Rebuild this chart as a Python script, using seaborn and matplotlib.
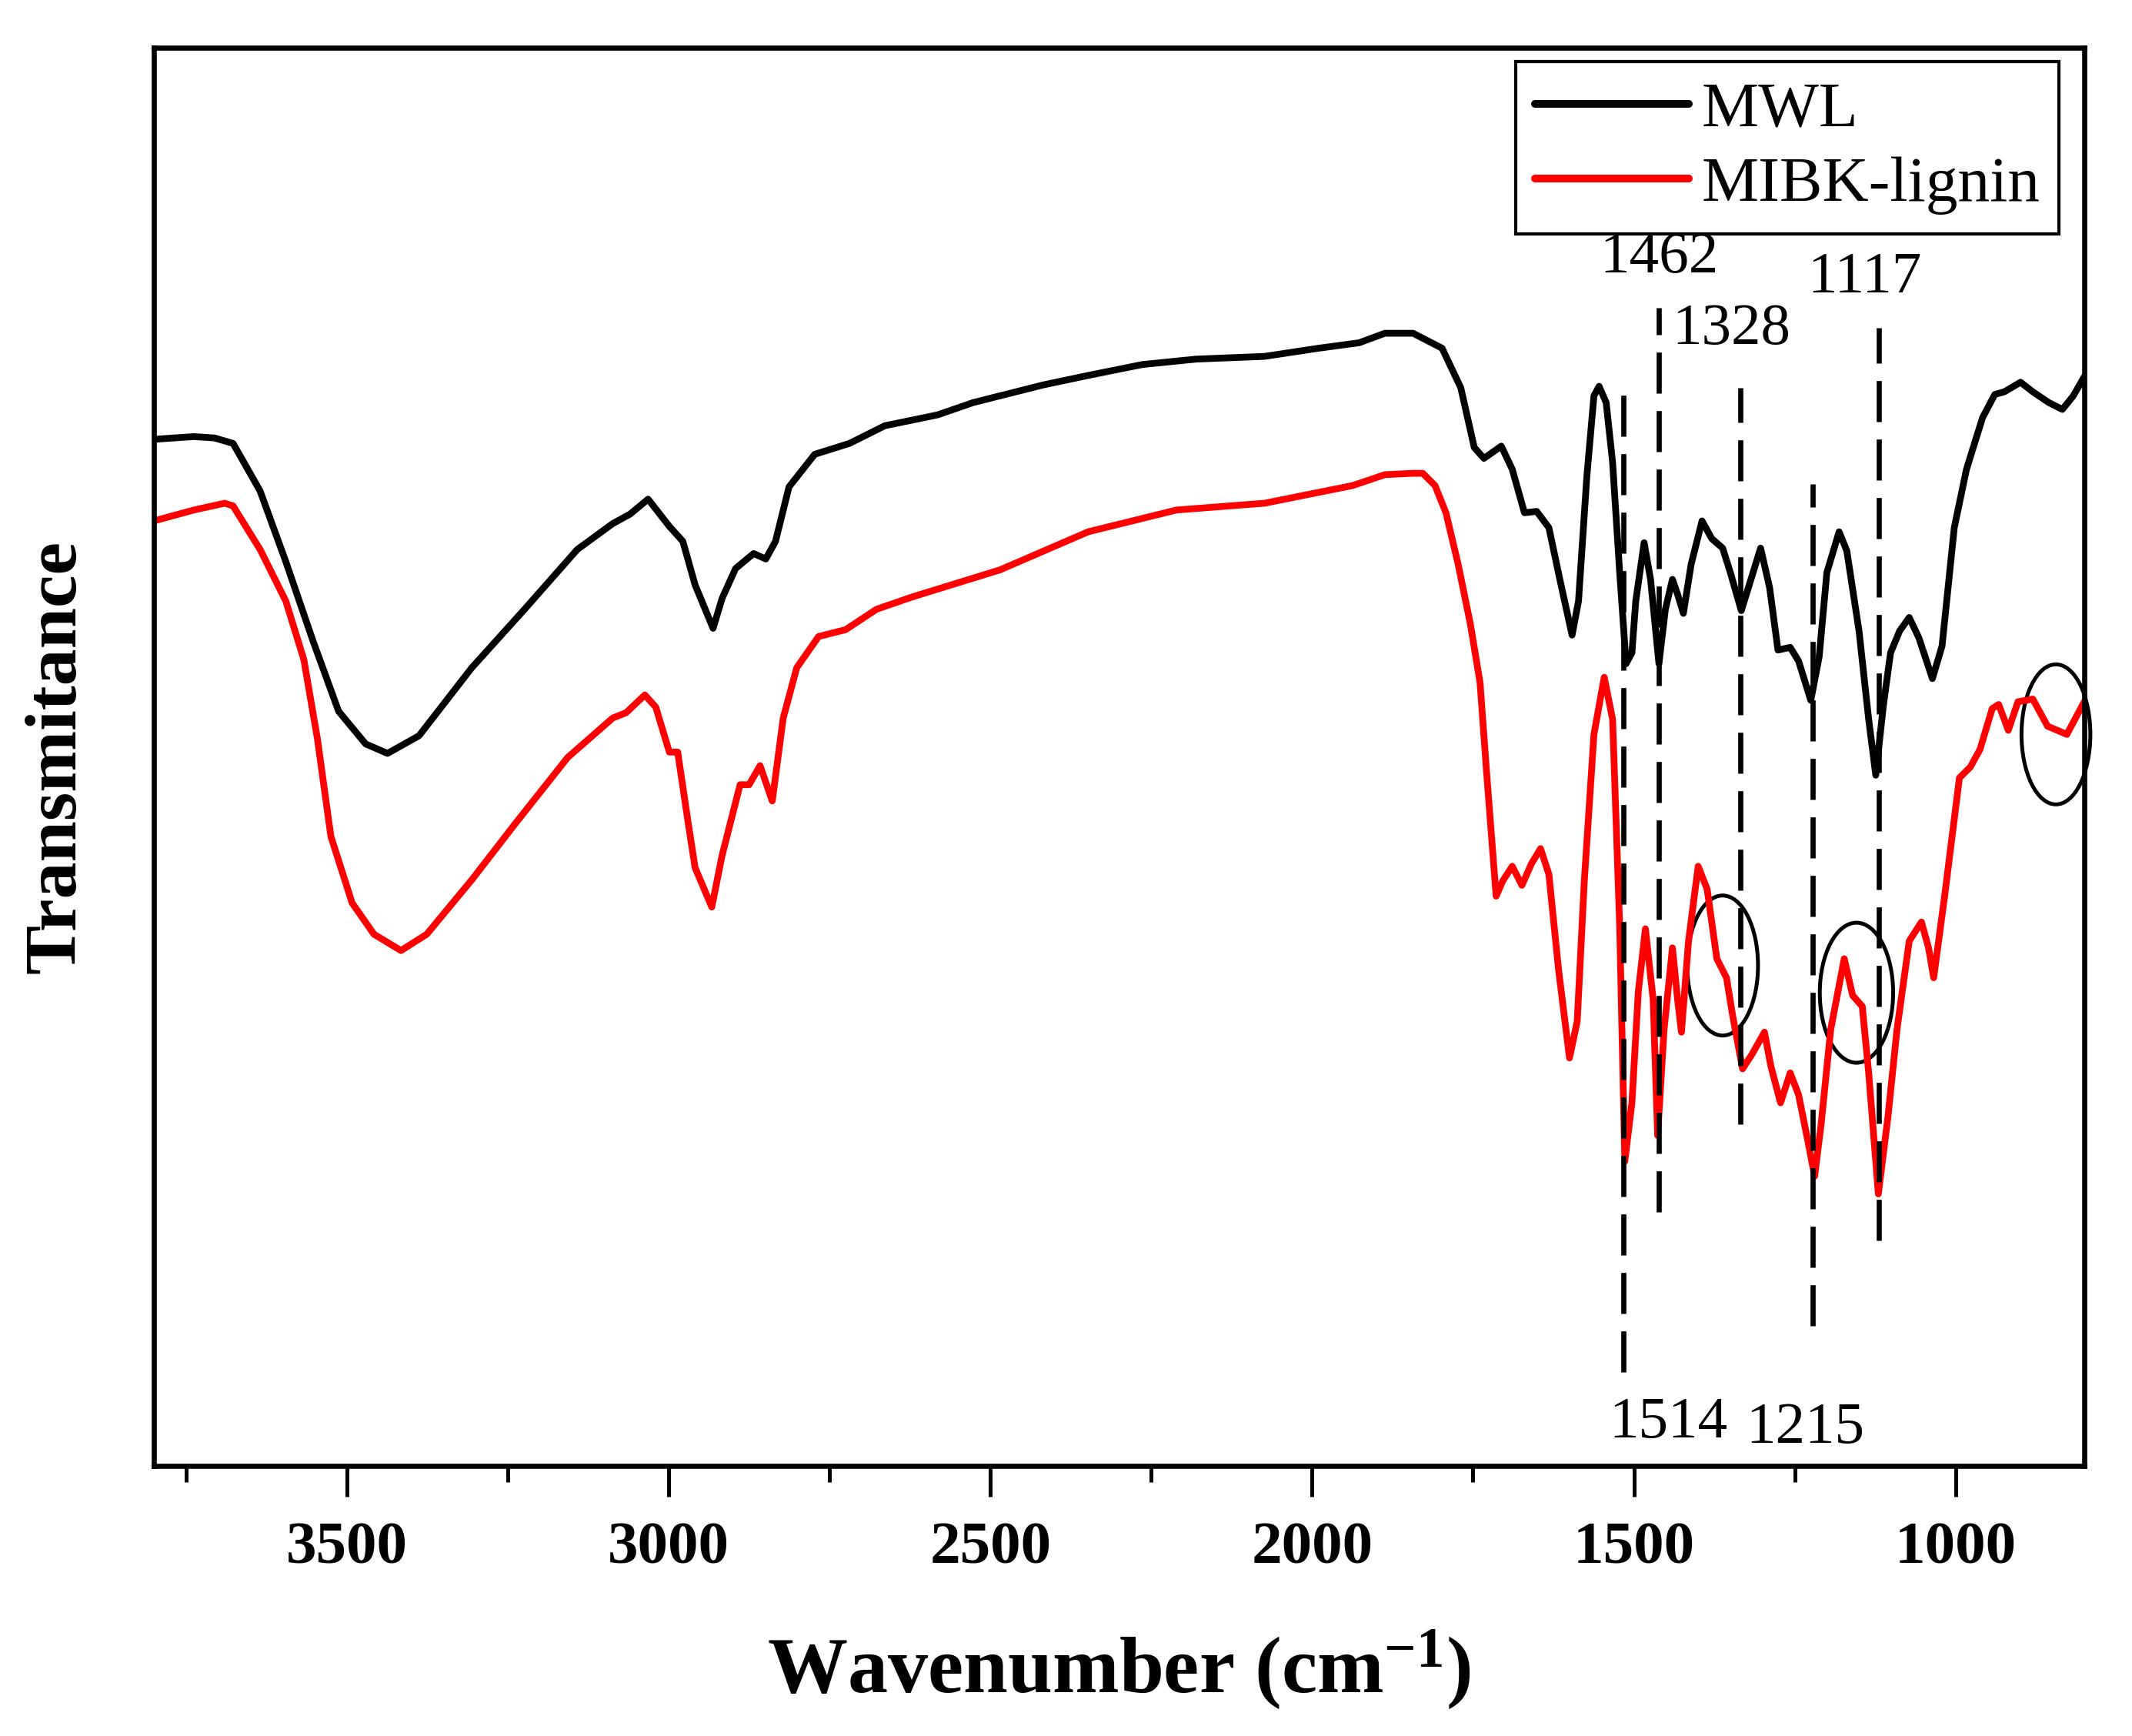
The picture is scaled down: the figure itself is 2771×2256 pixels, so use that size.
import numpy as np
import pandas as pd
import seaborn as sns
import matplotlib.pyplot as plt
from matplotlib.patches import Ellipse
from matplotlib.ticker import MultipleLocator

# FTIR spectra (wavenumber in cm-1, transmittance in a.u.)
mwl_wn = [3800, 3738, 3706, 3677, 3635, 3595, 3553, 3513, 3471, 3437, 3388, 3306, 3224,
          3142, 3087, 3060, 3032, 2999, 2978, 2959, 2931, 2917, 2896, 2868, 2849, 2834,
          2813, 2773, 2719, 2664, 2582, 2527, 2418, 2348, 2264, 2180, 2074, 1990, 1927,
          1887, 1843, 1798, 1769, 1748, 1733, 1706, 1689, 1670, 1651, 1632, 1615, 1596,
          1586, 1573, 1562, 1554, 1543, 1533, 1522, 1512, 1503, 1497, 1484, 1474, 1461,
          1451, 1440, 1432, 1423, 1411, 1394, 1379, 1362, 1350, 1333, 1318, 1303, 1289,
          1276, 1257, 1244, 1225, 1212, 1200, 1181, 1169, 1150, 1135, 1124, 1112, 1101,
          1087, 1072, 1057, 1036, 1021, 1002, 983, 958, 939, 924, 899, 880, 855, 834,
          817, 800]
mwl_t = [75.5, 75.7, 75.6, 75.2, 71.7, 66.5, 60.7, 55.5, 53.1, 52.4, 53.7, 58.7, 63.0,
         67.4, 69.3, 70.0, 71.1, 69.1, 68.0, 64.8, 61.6, 63.8, 66.0, 67.1, 66.7, 68.0,
         72.0, 74.4, 75.2, 76.5, 77.3, 78.2, 79.5, 80.2, 81.0, 81.4, 81.6, 82.2, 82.6,
         83.3, 83.3, 82.2, 79.3, 74.9, 74.1, 75.0, 73.3, 70.1, 70.2, 69.0, 65.2, 61.1,
         63.6, 72.8, 78.7, 79.4, 78.2, 73.8, 65.7, 59.0, 59.8, 63.6, 67.9, 65.2, 59.0,
         63.0, 65.2, 64.1, 62.7, 66.3, 69.5, 68.2, 67.5, 65.7, 62.9, 65.2, 67.5, 64.6,
         60.0, 60.2, 59.2, 56.3, 59.5, 65.7, 68.7, 67.3, 61.4, 54.9, 50.8, 56.0, 59.8,
         61.4, 62.4, 60.9, 57.9, 60.3, 69.0, 73.3, 77.1, 78.8, 79.0, 79.7, 79.0, 78.2,
         77.7, 78.7, 80.1]

mibk_wn = [3800, 3738, 3690, 3677, 3635, 3595, 3567, 3546, 3525, 3492, 3458, 3416, 3376,
           3306, 3239, 3157, 3087, 3066, 3037, 3020, 2999, 2986, 2971, 2959, 2933, 2917,
           2889, 2875, 2858, 2839, 2822, 2801, 2767, 2725, 2677, 2622, 2485, 2348, 2211,
           2074, 1937, 1887, 1843, 1828, 1809, 1792, 1773, 1754, 1739, 1729, 1714, 1704,
           1689, 1674, 1659, 1645, 1632, 1617, 1600, 1588, 1577, 1562, 1546, 1533, 1522,
           1514, 1503, 1493, 1482, 1470, 1463, 1453, 1440, 1432, 1426, 1415, 1400, 1386,
           1371, 1356, 1346, 1331, 1316, 1297, 1287, 1272, 1257, 1244, 1230, 1219, 1209,
           1194, 1173, 1160, 1145, 1135, 1120, 1105, 1091, 1072, 1053, 1042, 1034, 1017,
           994, 977, 962, 943, 933, 918, 903, 880, 857, 827, 800]
mibk_t = [69.5, 70.3, 70.8, 70.6, 67.4, 63.6, 59.3, 53.5, 46.3, 41.4, 39.1, 37.9, 39.1,
          43.1, 47.2, 52.1, 55.0, 55.4, 56.7, 55.8, 52.5, 52.5, 47.7, 44.0, 41.1, 44.9,
          50.1, 50.1, 51.5, 48.9, 55.0, 58.7, 61.0, 61.5, 63.0, 63.9, 65.9, 68.7, 70.3,
          70.8, 72.1, 72.9, 73.0, 73.0, 72.1, 70.1, 66.3, 61.9, 57.6, 51.1, 41.9, 43.0,
          44.1, 42.7, 44.3, 45.4, 43.5, 36.5, 30.0, 32.7, 43.0, 53.8, 58.0, 54.9, 39.7,
          22.4, 26.7, 34.9, 39.5, 34.3, 24.3, 32.1, 38.1, 34.3, 31.9, 38.6, 44.1, 42.4,
          37.3, 35.9, 33.0, 29.2, 30.3, 31.9, 29.4, 26.7, 28.9, 27.3, 24.0, 21.3, 25.1,
          32.1, 37.3, 34.6, 33.8, 28.9, 20.0, 25.7, 32.1, 38.6, 40.0, 38.1, 35.9, 41.9,
          50.6, 51.4, 52.7, 55.7, 56.0, 54.1, 56.2, 56.4, 54.4, 53.8, 56.2]

# marked bands: dashed guide lines and their labels
line_pos = [1516, 1461, 1335, 1222, 1119]
line_top = [80.0, 85.2, 79.3, 72.2, 83.7]
line_bottom = [6.9, 18.7, 25.1, 10.3, 16.6]
band_labels = ["1462", "1328", "1117", "1514", "1215"]
band_label_x = [1461, 1348, 1141, 1447, 1234]
band_label_y = [87.8, 82.5, 86.3, 2.1, 1.7]

# circled shoulders (center wavenumber, center transmittance, width, height)
circle_x = [1362, 1154, 844]
circle_y = [36.8, 34.8, 53.8]
circle_w = [110, 114, 107]
circle_h = [10.3, 10.3, 10.3]

df = pd.concat([
    pd.DataFrame({"wavenumber": mwl_wn, "transmittance": mwl_t, "sample": "MWL"}),
    pd.DataFrame({"wavenumber": mibk_wn, "transmittance": mibk_t, "sample": "MIBK-lignin"}),
])

sns.set_style("ticks")
plt.rcParams["font.family"] = ["Liberation Serif", "DejaVu Serif"]
plt.rcParams["mathtext.default"] = "regular"
plt.rcParams["text.color"] = "black"
plt.rcParams["axes.labelcolor"] = "black"
plt.rcParams["xtick.color"] = "black"

fig = plt.figure(figsize=(2771 / 300, 2256 / 300), dpi=300)
ax = fig.add_axes([0.0722, 0.1556, 0.9054, 0.8169])

sns.lineplot(data=df, x="wavenumber", y="transmittance", hue="sample",
             palette={"MWL": "black", "MIBK-lignin": "red"}, linewidth=2.1,
             sort=False, estimator=None, ax=ax)

# dashed band markers
for x, y0, y1 in zip(line_pos, line_bottom, line_top):
    ax.plot([x, x], [y0, y1], color="black", linewidth=1.6, dashes=(8, 3.4))

for txt, x, y in zip(band_labels, band_label_x, band_label_y):
    ax.text(x, y, txt, ha="center", va="baseline", fontsize=18.5, color="black")

for x, y, w, h in zip(circle_x, circle_y, circle_w, circle_h):
    ax.add_patch(Ellipse((x, y), w, h, fill=False, edgecolor="black",
                         linewidth=1.2, clip_on=False))

ax.set_xlim(3800, 800)
ax.set_ylim(0, 104.3)
ax.xaxis.set_major_locator(MultipleLocator(500))
ax.xaxis.set_minor_locator(MultipleLocator(250))
ax.tick_params(axis="x", which="major", direction="out", length=9.5, width=1.2,
               pad=8, labelsize=19, colors="black")
ax.tick_params(axis="x", which="minor", direction="out", length=5, width=1.2,
               colors="black")
ax.tick_params(axis="y", left=False, labelleft=False)
for lbl in ax.get_xticklabels():
    lbl.set_fontweight("bold")

for side in ["top", "bottom", "left", "right"]:
    ax.spines[side].set_visible(True)
    ax.spines[side].set_linewidth(1.6)
    ax.spines[side].set_color("black")

ax.set_xlabel("Wavenumber (cm$^{-1}$)", fontsize=25, fontweight="bold")
ax.set_ylabel("Transmitance", fontsize=23, fontweight="bold")
ax.xaxis.set_label_coords(0.5, -0.114)
ax.yaxis.set_label_coords(-0.033, 0.5)

old = ax.get_legend()
handles = old.legend_handles
labels = [t.get_text() for t in old.get_texts()]
leg = ax.legend(handles, labels, loc="upper right", bbox_to_anchor=(0.987, 0.99),
                fontsize=20, frameon=True, fancybox=False, framealpha=1,
                edgecolor="black", handlelength=2.4, handletextpad=0.2,
                borderpad=0.3, labelspacing=0.25, borderaxespad=0)
leg.get_frame().set_linewidth(1.0)
for h in leg.legend_handles:
    h.set_linewidth(2.4)
for t in leg.get_texts():
    t.set_color("black")

fig.savefig("out.png", dpi=300)
